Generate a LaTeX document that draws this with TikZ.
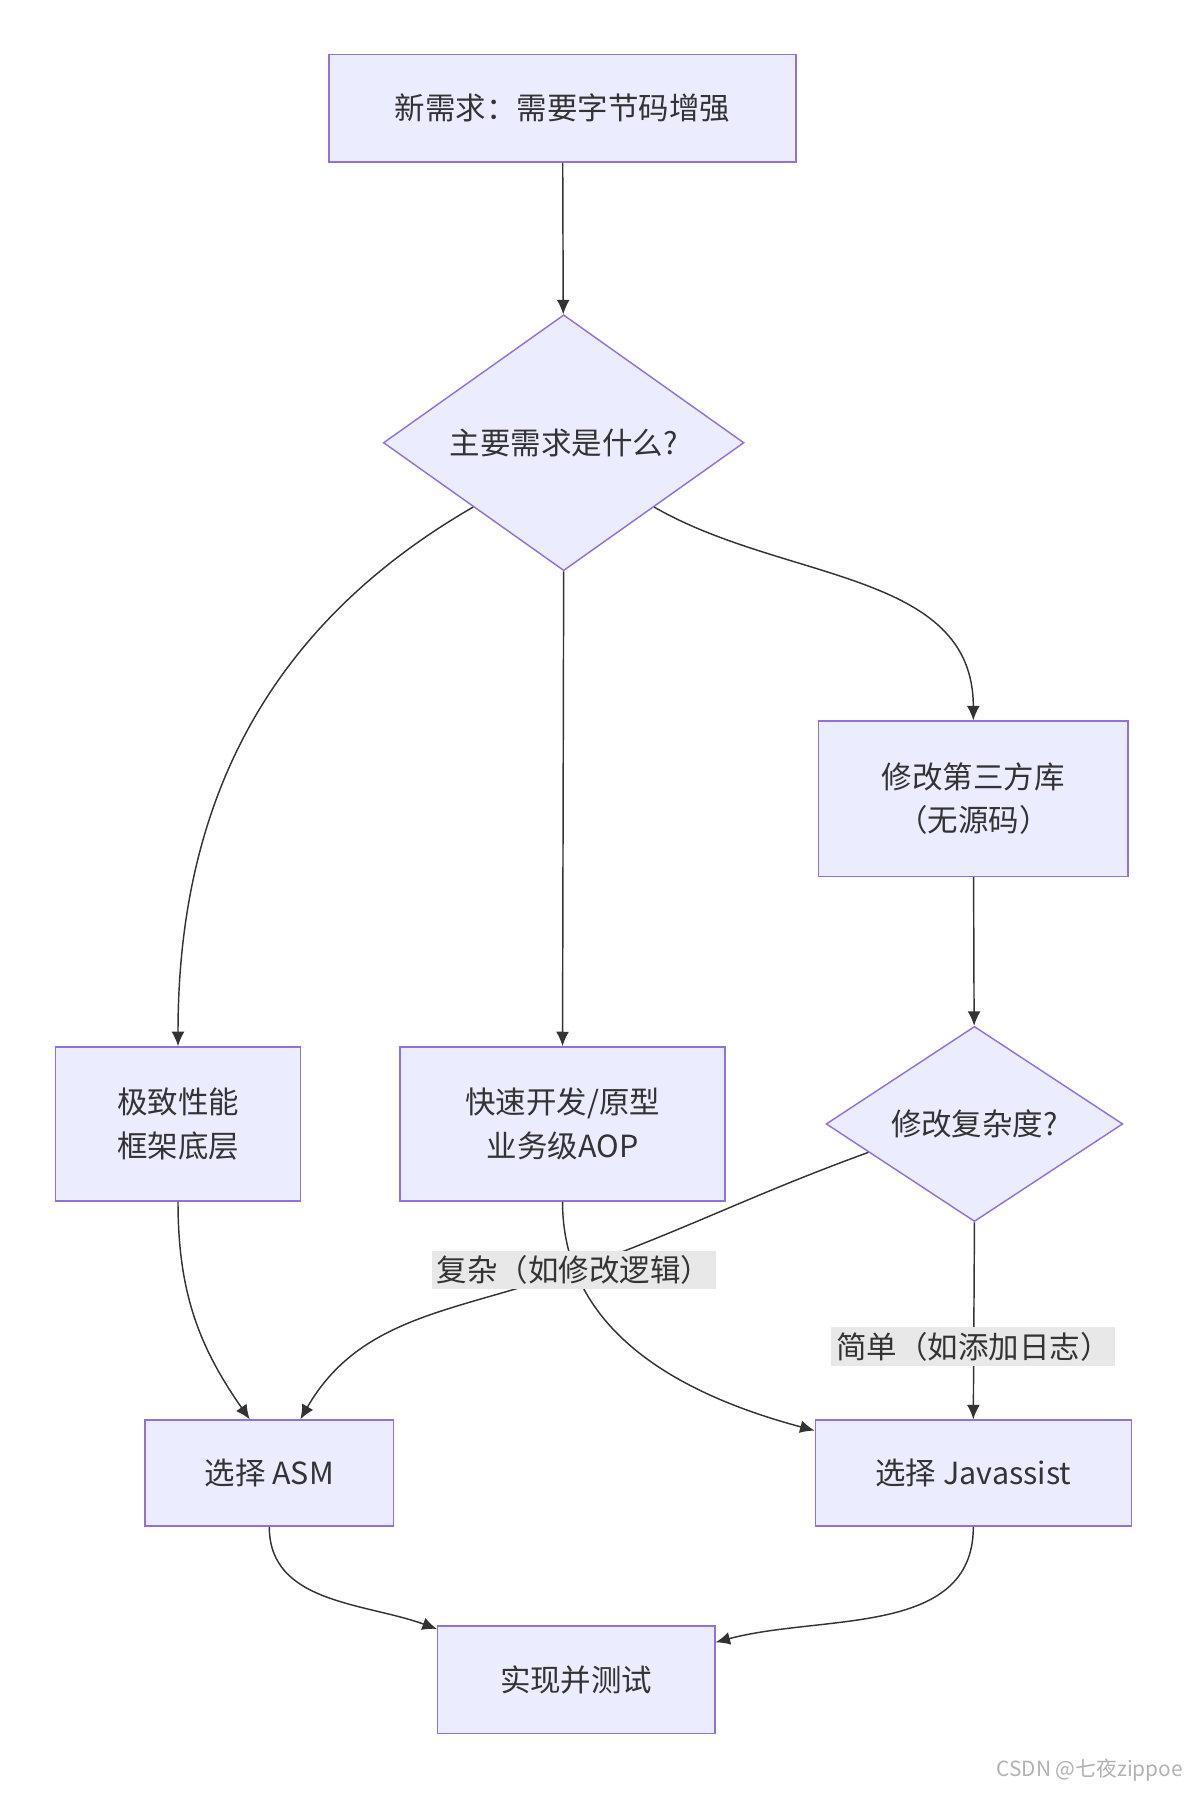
\documentclass[tikz,border=0pt]{standalone}
\usepackage{fontspec}
\setmainfont{Noto Sans CJK SC}
\usetikzlibrary{shapes.geometric,arrows.meta}
\definecolor{boxfill}{HTML}{ECECFF}
\definecolor{boxline}{HTML}{9370DB}
\definecolor{edge}{HTML}{333333}
\definecolor{lblfill}{HTML}{E8E8E8}
\tikzset{
  box/.style={draw=boxline,fill=boxfill,line width=0.9pt,inner sep=0pt,align=center,
    font=\fontsize{19}{27}\selectfont,text=edge},
  choice/.style={box,diamond,aspect=1},
  lbl/.style={fill=lblfill,inner sep=3pt,font=\fontsize{19}{27}\selectfont,text=edge},
  flow/.style={draw=edge,line width=0.9pt,-{Latex[length=9pt,width=8pt]}}
}
\begin{document}
\begin{tikzpicture}[x=0.025cm,y=-0.025cm]
  \useasboundingbox[fill=white] (0,0) rectangle (1050,1581);
  % nodes
  \node[box,minimum width=10.225cm,minimum height=2.35cm] (need) at (493,95) {新需求：需要字节码增强};
  \node[choice,minimum width=7.9cm] (main) at (494,388) {主要需求是什么?};
  \node[box,minimum width=6.775cm,minimum height=3.4cm] (third) at (853,700) {修改第三方库\\（无源码）};
  \node[choice,minimum width=6.5cm] (cplx) at (854,985) {修改复杂度?};
  \node[box,minimum width=5.375cm,minimum height=3.375cm] (perf) at (156,985) {极致性能\\框架底层};
  \node[box,minimum width=7.125cm,minimum height=3.375cm] (fast) at (493,985) {快速开发/原型\\业务级AOP};
  \node[box,minimum width=5.45cm,minimum height=2.325cm] (asm) at (236,1291) {选择 ASM};
  \node[box,minimum width=6.925cm,minimum height=2.325cm] (jav) at (853,1291) {选择 Javassist};
  \node[box,minimum width=6.075cm,minimum height=2.35cm] (test) at (505,1472) {实现并测试};
  \coordinate (hard) at (503,1113);
  % edges
  \draw[flow] (need) -- (main);
  \draw[flow] (main.south west) to[out=210,in=90] (perf.north);
  \draw[flow] (main.south) -- (fast.north);
  \draw[flow] (main.south east) to[out=-30,in=90] (third.north);
  \draw[flow] (third) -- (cplx);
  \draw[flow] (cplx.195) to[out=200,in=20] (hard) to[out=200,in=60] (asm.60);
  \draw[flow] (cplx.south) -- (jav.north);
  \draw[flow] (perf.south) to[out=-90,in=125] (asm.110);
  \draw[flow] (fast.south) to[out=-90,in=165] (jav.165);
  \draw[flow] (asm.south) to[out=-90,in=160] (test.160);
  \draw[flow] (jav.south) to[out=-90,in=15] (test.15);
  % labels
  \node[lbl] (hardlbl) at (hard) {复杂（如修改逻辑）};
  \node[lbl] (easylbl) at (853,1180) {简单（如添加日志）};
  \node[text=gray!60,font=\fontsize{13}{15}\selectfont] (mark) at (955,1551) {CSDN @七夜zippoe};
\end{tikzpicture}
\end{document}
